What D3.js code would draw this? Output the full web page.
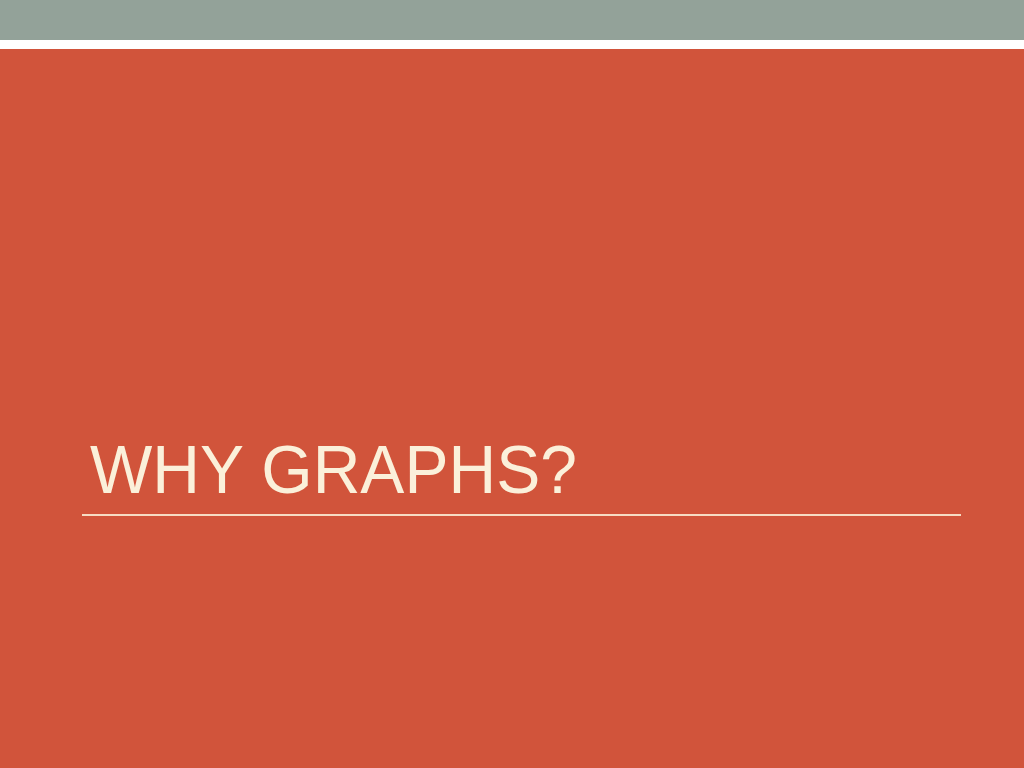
<!DOCTYPE html>
<html>
<head>
<meta charset="utf-8">
<script src="https://cdn.jsdelivr.net/npm/d3@7"></script>
<style>
  html, body { margin: 0; padding: 0; background: #fff; }
  svg { display: block; }
</style>
</head>
<body>
<div id="slide"></div>
<script>
// slide content
const TITLE = ["WHY GRAPHS?"];
const BANDS = ["header", "gap", "body"];

const W = 1024, H = 768;
const COLOR = new Map([["header", "#93a299"], ["gap", "#ffffff"], ["body", "#d1543b"]]);

const svg = d3.select("#slide").append("svg")
  .attr("width", W).attr("height", H)
  .attr("viewBox", `0 0 ${W} ${H}`);

// vertical layout of the stacked bands
const y = d3.scaleOrdinal().domain(BANDS).range([0, 40, 49]);
const hgt = d3.scaleOrdinal().domain(BANDS).range([40, 9, H - 49]);

svg.selectAll("rect.band")
  .data(BANDS)
  .join("rect")
  .attr("class", "band")
  .attr("x", 0)
  .attr("y", d => y(d))
  .attr("width", W)
  .attr("height", d => hgt(d))
  .attr("fill", d => COLOR.get(d));

// title + rule
svg.selectAll("text.title")
  .data(TITLE)
  .join("text")
  .attr("class", "title")
  .attr("x", 90)
  .attr("y", 493)
  .attr("font-family", "Liberation Sans, Arial, sans-serif")
  .attr("font-size", 69)
  .attr("textLength", 487)
  .attr("lengthAdjust", "spacingAndGlyphs")
  .attr("fill", "#fbf0da")
  .text(d => d);

svg.append("line")
  .attr("x1", 82).attr("x2", 961)
  .attr("y1", 515).attr("y2", 515)
  .attr("stroke", "#f7dcc4")
  .attr("stroke-width", 2);
</script>
</body>
</html>
